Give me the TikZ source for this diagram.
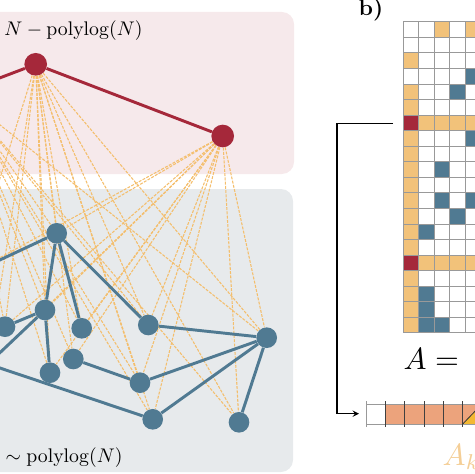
\documentclass[tikz,border=0pt]{standalone}
\usepackage{amsmath}
\usepackage{pgf, tikz}
\usepackage{color}
\usetikzlibrary{arrows}

\pgfdeclarelayer{background}
\pgfsetlayers{background,main}

\definecolor{hubred}{RGB}{165,40,58}
\definecolor{bulkblue}{RGB}{80,122,146}
\definecolor{linkorange}{RGB}{244,190,108}
\definecolor{cellorange}{RGB}{242,194,122}
\definecolor{boxpink}{RGB}{246,233,235}
\definecolor{boxgray}{RGB}{231,234,236}
\definecolor{vecsalmon}{RGB}{236,163,124}
\definecolor{vecgold}{RGB}{243,184,50}
\definecolor{fadeorange}{RGB}{244,206,150}

\begin{document}
\begin{tikzpicture}[x=0.75pt,y=0.75pt,yscale=-1,xscale=1,
  hub/.style={circle,fill=hubred,inner sep=0,minimum size=17pt},
  bulk/.style={circle,fill=bulkblue,inner sep=0,minimum size=15.5pt},
  hubedge/.style={hubred,line width=2.2pt},
  bulkedge/.style={bulkblue,line width=2.2pt},
  link/.style={linkorange,line width=0.8pt,dash pattern=on 2.2pt off 1pt},
  gridline/.style={gray!80,line width=0.5pt}]
\useasboundingbox (0,0) rectangle (474,474);

%Shape: Rounded Rectangles
\begin{pgfonlayer}{background}
\fill [boxpink, rounded corners=9pt] (-40,12) rectangle (294,174) ;
\fill [boxgray, rounded corners=9pt] (-40,189) rectangle (293,472) ;
\end{pgfonlayer}

%Shape: Circles (red hubs)
\node [hub] (hub0) at (-40,93) {};
\node [hub] (hub1) at (35.7,64.3) {};
\node [hub] (hub2) at (222.7,136) {};

%Shape: Circles (blue bulk)
\node [bulk] (w1) at (-30,274) {};
\node [bulk] (w2) at (-12,364) {};
\node [bulk] (v1) at (56.7,233.3) {};
\node [bulk] (v2) at (45,310) {};
\node [bulk] (v3) at (5,326.7) {};
\node [bulk] (v4) at (81.7,328.3) {};
\node [bulk] (v5) at (148.3,325) {};
\node [bulk] (v6) at (266.7,337.7) {};
\node [bulk] (v7) at (73.3,359) {};
\node [bulk] (v8) at (50,372.7) {};
\node [bulk] (v9) at (140,382.7) {};
\node [bulk] (v10) at (152.7,419.3) {};
\node [bulk] (v11) at (239,422.3) {};

\begin{pgfonlayer}{background}
%Dashed Lines
\foreach \h in {hub0,hub1,hub2}
  \foreach \v in {w1,w2,v1,v2,v3,v4,v5,v6,v7,v8,v9,v10,v11}
    \draw [link] (\h) -- (\v) ;
%Straight Lines
\draw [hubedge] (hub0) -- (hub1) -- (hub2) ;
\draw [bulkedge] (w1) -- (v1) ;
\draw [bulkedge] (v1) -- (v2) ;
\draw [bulkedge] (v1) -- (v4) ;
\draw [bulkedge] (v1) -- (v5) -- (v6) ;
\draw [bulkedge] (v3) -- (v2) -- (v8) ;
\draw [bulkedge] (v2) -- (w2) -- (v10) ;
\draw [bulkedge] (v7) -- (v9) -- (v6) ;
\draw [bulkedge] (v10) -- (v6) -- (v11) ;
\end{pgfonlayer}

% Text Node
\node [anchor=base east, inner sep=0, scale=1.48] (toplabel) at (143,35.5) {size $\sim N-\mathrm{polylog}(N)$};
% Text Node
\node [anchor=base east, inner sep=0, scale=1.48] (botlabel) at (123,462) {size $\sim \mathrm{polylog}(N)$};
% Text Node
\node [anchor=base, inner sep=0, scale=1.7] (panelb) at (371,16) {\textbf{b)}};

%Shape: Grid (adjacency matrix)
\foreach \c/\r in {2/0,4/0,0/2,0/4,0/5,1/6,2/6,3/6,4/6,5/6,0/7,0/8,0/9,0/10,0/11,0/12,0/13,0/14,1/15,2/15,3/15,4/15,5/15,0/16,0/17,0/18,0/19}
  \fill [cellorange] ({403+\c*15.55},{21.7+\r*15.55}) rectangle ++(15.55,15.55) ;
\foreach \c/\r in {0/6,0/15}
  \fill [hubred] ({403+\c*15.55},{21.7+\r*15.55}) rectangle ++(15.55,15.55) ;
\foreach \c/\r in {4/3,3/4,4/7,2/9,2/11,4/11,3/12,1/13,1/17,1/18,1/19,2/19}
  \fill [bulkblue] ({403+\c*15.55},{21.7+\r*15.55}) rectangle ++(15.55,15.55) ;
\foreach \r in {0,...,20}
  \draw [gridline] (403,{21.7+\r*15.55}) -- (500,{21.7+\r*15.55}) ;
\foreach \c in {0,...,6}
  \draw [gridline] ({403+\c*15.55},21.7) -- ({403+\c*15.55},332.7) ;

% Text Node
\node [anchor=base west, inner sep=0, scale=2.3] (aeq) at (403,369.3) {$A =$};

%Shape: Vector
\fill [vecsalmon] (385.3,404) rectangle (500,424) ;
\fill [vecgold] (462.7,424) -- (482,404) -- (482,424) -- cycle ;
\draw [black!80, line width=0.6pt] (462.7,424) -- (482,404) ;
\draw [gridline] (366,404) -- (500,404) (366,424) -- (500,424) ;
\draw [gridline] (366,401) -- (366,427) ;
\foreach \k in {1,...,6}
  \draw [black!75, line width=0.6pt] ({366+\k*19.3},401) -- ({366+\k*19.3},427) ;
\coordinate (vecin) at (359,413.7) ;
\coordinate (rowsix) at (393,123.3) ;

%Straight Lines
\draw [line width=1.1pt, -stealth] (rowsix) -- ++(-56,0) |- (vecin) ;

% Text Node
\node [anchor=base west, inner sep=0, scale=2.3, text=fadeorange] (arow) at (442,465) {$A_{k}$};
\end{tikzpicture}
\end{document}
